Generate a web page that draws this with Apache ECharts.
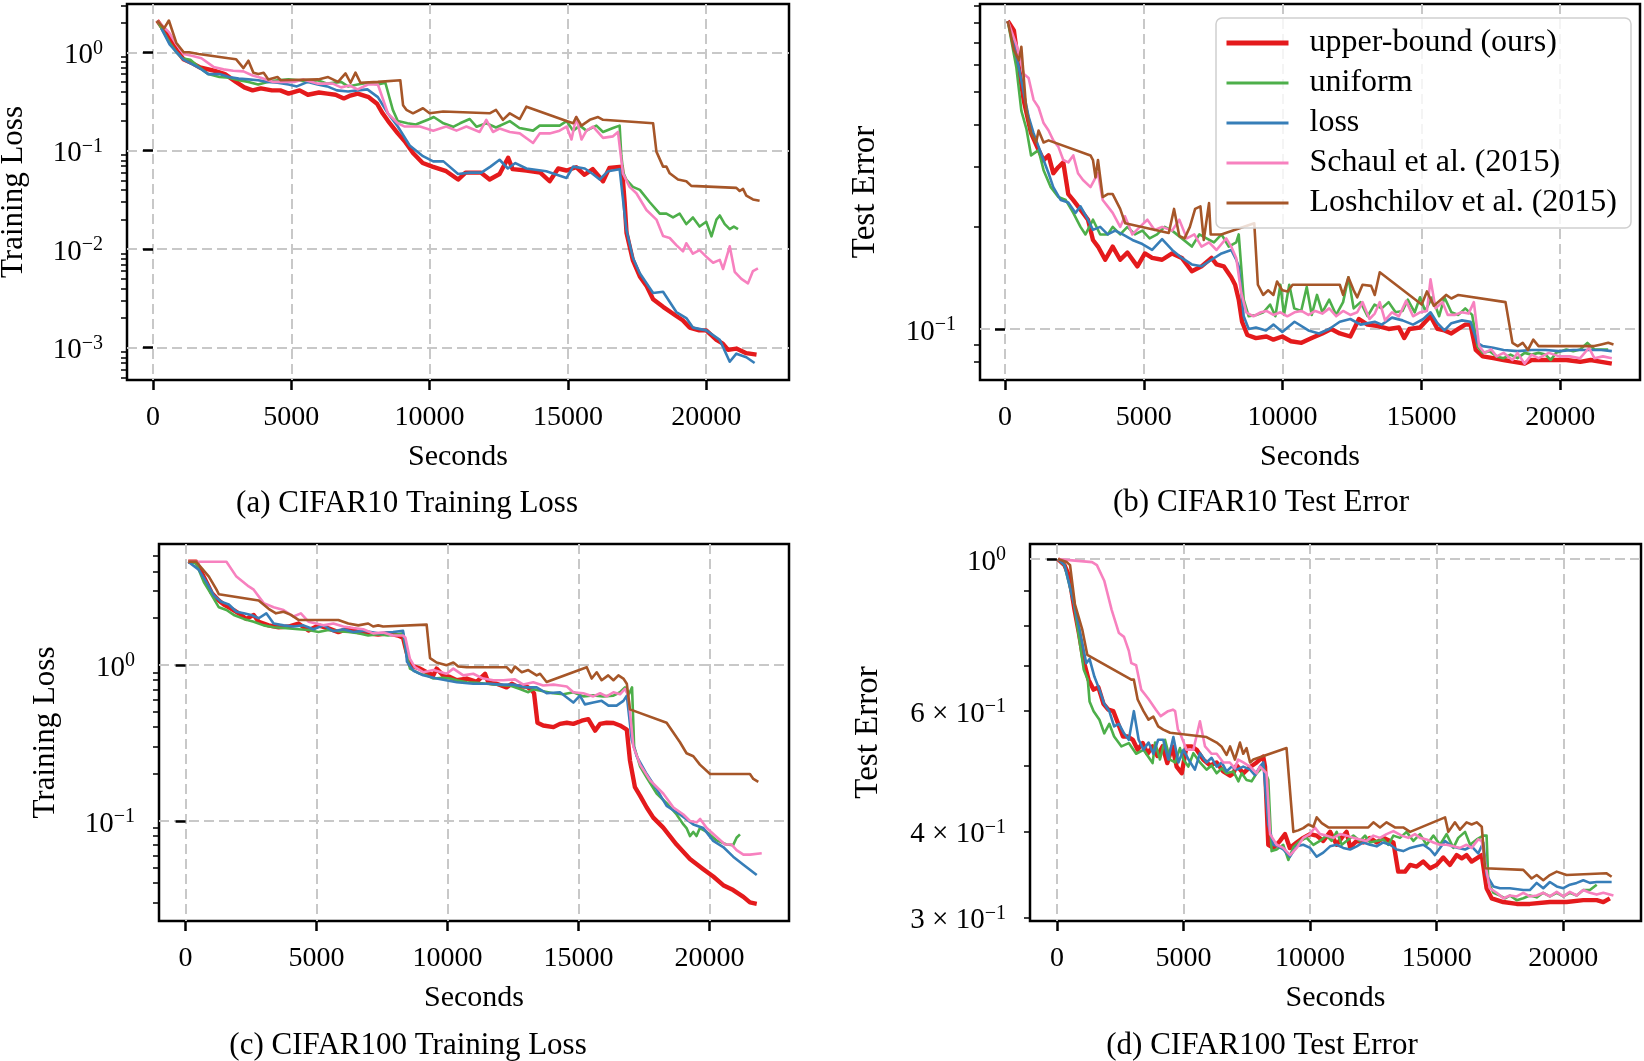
<!DOCTYPE html>
<html>
<head>
<meta charset="utf-8">
<script src="https://cdn.jsdelivr.net/npm/echarts@6.0.0/dist/echarts.min.js"></script>
<style>
  html, body { margin: 0; padding: 0; background: #fff; }
  #chart { width: 1644px; height: 1061px; }
</style>
</head>
<body>
<div id="chart"></div>
<script>
// legend names and colours (same order in every panel)
const methodNames = ['upper-bound (ours)', 'uniform', 'loss', 'Schaul et al. (2015)', 'Loshchilov et al. (2015)']
const methodColors = ['#e41a1c', '#4daf4a', '#377eb8', '#f781bf', '#a65628']

const xTicks = [0, 5000, 10000, 15000, 20000]

// (a) CIFAR10 training loss, [seconds, loss]
const aUpper = [[150,2.1],[600,1.4],[850,1.05],[1100,0.85],[1400,0.78],[1700,0.7],[2200,0.65],[2600,0.6],[3000,0.5],[3300,0.44],[3600,0.41],[3900,0.43],[4300,0.41],[4600,0.41],[4900,0.38],[5300,0.41],[5600,0.37],[6000,0.39],[6300,0.38],[6600,0.37],[6900,0.34],[7100,0.36],[7400,0.38],[7800,0.35],[8100,0.3],[8300,0.24],[8500,0.2],[8850,0.15],[9100,0.125],[9400,0.095],[9750,0.075],[10100,0.069],[10600,0.062],[11030,0.051],[11300,0.06],[11850,0.06],[12170,0.051],[12530,0.058],[12840,0.085],[13000,0.065],[13500,0.063],[14000,0.06],[14340,0.049],[14650,0.066],[14950,0.063],[15300,0.068],[15600,0.057],[15900,0.065],[16270,0.049],[16500,0.067],[16950,0.069],[17050,0.03],[17120,0.0146],[17350,0.0077],[17600,0.0053],[17850,0.0042],[18080,0.0031],[18440,0.0026],[18920,0.0021],[19150,0.0019],[19400,0.0016],[19750,0.0015],[20000,0.0015],[20370,0.0012],[20600,0.0011],[20790,0.00095],[21090,0.00098],[21450,0.00088],[21820,0.00085]]
const aUniform = [[150,2.1],[600,1.25],[850,1.0],[1050,0.87],[1350,0.84],[1650,0.71],[2000,0.6],[2400,0.56],[2750,0.55],[3100,0.52],[3450,0.5],[3800,0.47],[4150,0.5],[4500,0.52],[4900,0.53],[5250,0.52],[5600,0.5],[5950,0.52],[6300,0.48],[6800,0.5],[7050,0.45],[7400,0.47],[7770,0.49],[8130,0.47],[8400,0.49],[8670,0.26],[8850,0.2],[9200,0.19],[9500,0.185],[10000,0.21],[10150,0.22],[10500,0.19],[10850,0.175],[11100,0.19],[11450,0.21],[11700,0.175],[12050,0.19],[12400,0.172],[12900,0.2],[13250,0.17],[13740,0.16],[13980,0.18],[14700,0.18],[14950,0.2],[15190,0.16],[15430,0.18],[15670,0.16],[16030,0.18],[16270,0.155],[16630,0.17],[16870,0.18],[16930,0.09],[17000,0.06],[17110,0.051],[17350,0.043],[17600,0.04],[17960,0.03],[18320,0.023],[18560,0.023],[18800,0.021],[19040,0.023],[19280,0.018],[19520,0.021],[19760,0.017],[20000,0.019],[20190,0.0135],[20370,0.02],[20490,0.022],[20670,0.018],[20850,0.016],[21000,0.017],[21150,0.016]]
const aLoss = [[300,1.75],[600,1.2],[850,1.0],[1100,0.84],[1650,0.7],[2000,0.6],[2400,0.6],[2750,0.56],[3100,0.54],[3450,0.53],[3800,0.52],[4150,0.5],[4500,0.49],[4900,0.47],[5200,0.45],[5600,0.5],[5950,0.47],[6300,0.45],[6650,0.41],[7050,0.4],[7400,0.41],[7750,0.42],[8130,0.35],[8490,0.24],[8850,0.176],[9280,0.113],[9760,0.088],[10130,0.078],[10500,0.078],[11030,0.058],[11450,0.06],[11870,0.06],[12200,0.069],[12530,0.081],[12830,0.066],[13100,0.075],[13500,0.066],[14220,0.062],[14950,0.053],[15190,0.069],[15610,0.066],[15900,0.058],[16150,0.051],[16450,0.062],[16870,0.065],[17110,0.016],[17350,0.0082],[17600,0.0057],[18080,0.0036],[18440,0.0037],[18920,0.0023],[19280,0.002],[19520,0.0016],[20000,0.0015],[20490,0.0012],[20850,0.00072],[21090,0.00087],[21450,0.0008],[21750,0.0007]]
const aSchaul = [[150,2.1],[574,1.6],[850,1.2],[1110,0.96],[1400,0.92],[1750,0.87],[2190,0.71],[2550,0.67],[2900,0.65],[3270,0.64],[3600,0.58],[3900,0.55],[4350,0.5],[4700,0.5],[5100,0.5],[5430,0.53],[5970,0.48],[6500,0.48],[6800,0.44],[7100,0.46],[7400,0.42],[7770,0.47],[8130,0.47],[8490,0.24],[8850,0.19],[9100,0.176],[9650,0.176],[10130,0.16],[10600,0.176],[10970,0.16],[11330,0.176],[11810,0.155],[12050,0.206],[12290,0.155],[12530,0.168],[12900,0.155],[13260,0.15],[13740,0.12],[13980,0.15],[14340,0.15],[14700,0.16],[14950,0.176],[15130,0.13],[15300,0.22],[15490,0.13],[15670,0.16],[15910,0.176],[16270,0.135],[16630,0.14],[16810,0.155],[16990,0.059],[17230,0.043],[17475,0.037],[17840,0.025],[18200,0.02],[18440,0.0136],[18680,0.013],[18920,0.011],[19160,0.0095],[19280,0.0115],[19520,0.009],[19760,0.0098],[20000,0.0084],[20250,0.0073],[20490,0.0078],[20610,0.0063],[20850,0.0107],[21030,0.0059],[21270,0.005],[21510,0.0045],[21690,0.006],[21870,0.0064]]
const aLosh = [[150,2.1],[400,1.75],[574,2.1],[840,1.25],[1110,1.0],[1300,1.0],[1650,0.96],[2730,0.87],[3000,0.85],[3270,0.69],[3450,0.82],[3630,0.62],[3810,0.6],[4000,0.62],[4170,0.53],[4500,0.56],[4620,0.52],[5970,0.53],[6330,0.56],[6690,0.5],[6960,0.61],[7140,0.49],[7320,0.62],[7500,0.49],[8130,0.5],[8940,0.52],[9040,0.29],[9160,0.26],[9400,0.24],[9760,0.27],[10000,0.24],[10490,0.25],[12170,0.24],[12400,0.26],[12650,0.206],[12900,0.24],[13260,0.21],[13500,0.28],[14950,0.2],[15190,0.19],[15300,0.22],[15490,0.18],[15790,0.206],[16090,0.22],[16270,0.206],[18080,0.19],[18200,0.098],[18440,0.069],[18560,0.069],[18680,0.059],[18980,0.051],[19280,0.049],[19460,0.044],[21090,0.042],[21210,0.039],[21330,0.041],[21450,0.035],[21690,0.032],[21930,0.031]]

// (b) CIFAR10 test error
const bUpper = [[100,0.81],[320,0.76],[500,0.59],[680,0.47],[940,0.378],[1210,0.337],[1390,0.315],[1570,0.325],[1740,0.288],[1920,0.3],[2100,0.31],[2280,0.25],[2460,0.24],[2720,0.225],[2990,0.21],[3170,0.183],[3350,0.175],[3610,0.16],[3880,0.175],[4150,0.16],[4410,0.168],[4770,0.153],[5040,0.167],[5300,0.162],[5660,0.16],[6020,0.167],[6370,0.162],[6730,0.148],[7080,0.153],[7440,0.162],[7620,0.155],[7880,0.153],[8150,0.142],[8290,0.135],[8420,0.122],[8540,0.105],[8730,0.096],[9040,0.094],[9420,0.095],[9670,0.093],[9990,0.095],[10300,0.092],[10680,0.091],[11050,0.094],[11430,0.097],[11750,0.1],[12060,0.097],[12440,0.095],[12750,0.107],[13060,0.103],[13440,0.102],[13820,0.1],[14190,0.101],[14380,0.094],[14570,0.1],[14950,0.101],[15330,0.109],[15580,0.1],[15830,0.099],[16080,0.097],[16330,0.1],[16580,0.103],[16770,0.103],[16960,0.0867],[17210,0.083],[17590,0.082],[17960,0.081],[18340,0.08],[18720,0.079],[18970,0.081],[19340,0.081],[19720,0.081],[20220,0.081],[20720,0.08],[21100,0.081],[21480,0.08],[21860,0.079]]
const bUniform = [[100,0.81],[410,0.59],[590,0.44],[770,0.39],[940,0.325],[1210,0.337],[1390,0.294],[1650,0.262],[1920,0.245],[2190,0.24],[2460,0.22],[2720,0.2],[2900,0.19],[3170,0.21],[3430,0.19],[3700,0.19],[3880,0.2],[4150,0.19],[4410,0.2],[4680,0.19],[4950,0.195],[5210,0.185],[5480,0.19],[5750,0.2],[6020,0.195],[6370,0.185],[6730,0.175],[7000,0.19],[7260,0.185],[7530,0.18],[7800,0.19],[8060,0.175],[8330,0.18],[8420,0.19],[8600,0.122],[8780,0.109],[9050,0.11],[9310,0.112],[9550,0.118],[9740,0.109],[9920,0.135],[10050,0.11],[10240,0.135],[10420,0.115],[10670,0.113],[10870,0.133],[11050,0.11],[11240,0.126],[11430,0.112],[11680,0.122],[11930,0.11],[12180,0.12],[12370,0.142],[12560,0.115],[12810,0.12],[13060,0.109],[13310,0.118],[13570,0.115],[13820,0.12],[14070,0.112],[14320,0.113],[14510,0.122],[14760,0.112],[14950,0.124],[15140,0.113],[15390,0.124],[15640,0.109],[15830,0.124],[16080,0.112],[16330,0.11],[16580,0.115],[16830,0.11],[17020,0.089],[17210,0.085],[17460,0.086],[17710,0.083],[17960,0.082],[18210,0.084],[18460,0.082],[18720,0.085],[18970,0.084],[19220,0.085],[19470,0.084],[19660,0.081],[19850,0.085],[20220,0.087],[20470,0.086],[20720,0.087],[20980,0.091],[21230,0.087],[21480,0.087],[21730,0.087]]
const bLoss = [[100,0.81],[320,0.69],[500,0.59],[680,0.495],[850,0.423],[1030,0.378],[1210,0.345],[1390,0.315],[1570,0.288],[1740,0.262],[2010,0.24],[2280,0.236],[2540,0.22],[2720,0.23],[2990,0.21],[3170,0.196],[3430,0.2],[3700,0.19],[3970,0.195],[4240,0.19],[4590,0.183],[4950,0.178],[5300,0.171],[5660,0.184],[6020,0.171],[6370,0.162],[6730,0.155],[7080,0.153],[7440,0.16],[7800,0.167],[8150,0.171],[8330,0.16],[8420,0.153],[8600,0.109],[8780,0.1],[9040,0.101],[9400,0.099],[9670,0.103],[9990,0.098],[10430,0.105],[10930,0.099],[11310,0.097],[11680,0.1],[12060,0.105],[12440,0.107],[12810,0.103],[13320,0.105],[13570,0.103],[13940,0.108],[14320,0.106],[14700,0.103],[15070,0.107],[15330,0.112],[15580,0.104],[15830,0.099],[16080,0.104],[16460,0.106],[16770,0.105],[17020,0.091],[17210,0.089],[17590,0.088],[17960,0.0867],[18460,0.086],[18970,0.0867],[19470,0.0867],[19970,0.086],[20470,0.0867],[20980,0.0867],[21480,0.0867],[21860,0.086]]
const bSchaul = [[100,0.81],[410,0.69],[680,0.565],[850,0.55],[1030,0.474],[1210,0.45],[1390,0.405],[1570,0.385],[1740,0.36],[1920,0.345],[2100,0.315],[2280,0.31],[2460,0.325],[2630,0.288],[2810,0.275],[3080,0.262],[3350,0.288],[3520,0.24],[3700,0.23],[3880,0.22],[4150,0.2],[4320,0.215],[4590,0.19],[4860,0.2],[5130,0.21],[5390,0.196],[5660,0.2],[6020,0.195],[6280,0.21],[6550,0.185],[6820,0.19],[7080,0.175],[7350,0.18],[7620,0.171],[7970,0.185],[8150,0.175],[8330,0.162],[8510,0.128],[8690,0.112],[8950,0.109],[9220,0.112],[9420,0.113],[9670,0.11],[9920,0.112],[10170,0.109],[10430,0.112],[10680,0.113],[10930,0.11],[11180,0.113],[11430,0.111],[11680,0.115],[11930,0.109],[12180,0.113],[12440,0.11],[12690,0.112],[12880,0.12],[13130,0.107],[13320,0.111],[13500,0.12],[13690,0.106],[13940,0.112],[14190,0.109],[14450,0.121],[14700,0.109],[14950,0.112],[15200,0.113],[15330,0.14],[15510,0.115],[15760,0.12],[15950,0.11],[16200,0.11],[16450,0.112],[16700,0.111],[16890,0.12],[17080,0.089],[17270,0.085],[17520,0.087],[17710,0.083],[17960,0.085],[18280,0.081],[18460,0.085],[18720,0.079],[18970,0.084],[19220,0.082],[19590,0.085],[19970,0.083],[20350,0.083],[20720,0.082],[21040,0.088],[21230,0.082],[21540,0.083],[21860,0.082]]
const bLosh = [[100,0.81],[320,0.665],[500,0.62],[590,0.68],[770,0.44],[940,0.378],[1120,0.355],[1210,0.385],[1390,0.355],[1570,0.36],[3080,0.325],[3170,0.315],[3260,0.28],[3350,0.315],[3520,0.245],[3700,0.25],[3880,0.25],[4150,0.226],[4330,0.205],[5900,0.192],[6090,0.226],[6280,0.188],[6470,0.185],[6660,0.2],[6850,0.226],[7040,0.23],[7160,0.183],[7350,0.235],[7410,0.19],[7600,0.19],[7790,0.19],[8980,0.205],[9110,0.135],[9300,0.126],[9480,0.13],[9670,0.126],[9800,0.138],[9990,0.13],[10180,0.129],[10360,0.135],[12060,0.135],[12180,0.126],[12370,0.142],[12560,0.13],[12690,0.124],[12880,0.135],[13190,0.134],[13320,0.126],[13500,0.147],[15010,0.118],[15200,0.129],[15450,0.117],[15700,0.122],[15890,0.126],[16080,0.123],[16330,0.126],[18030,0.12],[18280,0.091],[18470,0.089],[18650,0.091],[18840,0.0867],[19030,0.093],[19220,0.089],[21230,0.089],[21480,0.09],[21730,0.091],[21920,0.09]]

// (c) CIFAR100 training loss
const cUpper = [[100,4.61],[400,4.61],[800,3.4],[1000,2.9],[1270,2.6],[1460,2.45],[1650,2.35],[1840,2.25],[2030,2.15],[2320,1.98],[2600,2.1],[2790,1.9],[3170,1.8],[3550,1.75],[3930,1.77],[4310,1.85],[4690,1.67],[5070,1.8],[5450,1.72],[5830,1.63],[6210,1.72],[6590,1.63],[6970,1.6],[7350,1.57],[7730,1.6],[8110,1.55],[8300,1.5],[8390,1.3],[8565,1.0],[8950,0.95],[9200,0.9],[9455,0.86],[9580,0.95],[9830,0.86],[10090,0.84],[10350,0.8],[10730,0.82],[11110,0.78],[11430,0.88],[11560,0.77],[11870,0.76],[12250,0.72],[12450,0.76],[12640,0.73],[13020,0.73],[13210,0.69],[13300,0.66],[13430,0.427],[13650,0.41],[14040,0.4],[14290,0.42],[14550,0.427],[14800,0.42],[15120,0.44],[15370,0.45],[15630,0.38],[15820,0.42],[16070,0.427],[16330,0.425],[16580,0.41],[16840,0.386],[16960,0.245],[17150,0.165],[17350,0.145],[17600,0.122],[17850,0.105],[18230,0.0906],[18740,0.0706],[19250,0.057],[19760,0.049],[20140,0.044],[20520,0.0387],[20900,0.036],[21290,0.0326],[21540,0.03],[21800,0.0294]]
const cUniform = [[100,4.61],[400,4.5],[700,3.4],[900,3.0],[1270,2.35],[1560,2.26],[1840,2.1],[2220,1.98],[2600,1.9],[2980,1.8],[3360,1.75],[3740,1.73],[4310,1.7],[4690,1.68],[5070,1.63],[5450,1.68],[5830,1.65],[6210,1.63],[6590,1.6],[6970,1.55],[7350,1.58],[7730,1.55],[8110,1.58],[8300,1.6],[8420,1.2],[8565,0.95],[8950,0.88],[9200,0.86],[9460,0.82],[9830,0.83],[10090,0.82],[10350,0.8],[10730,0.777],[11110,0.77],[11490,0.76],[11870,0.75],[12250,0.74],[12380,0.74],[12760,0.703],[13080,0.67],[13270,0.7],[13650,0.68],[14030,0.66],[14420,0.65],[14800,0.67],[15180,0.63],[15560,0.64],[15940,0.63],[16330,0.637],[16580,0.67],[16770,0.72],[16900,0.64],[17040,0.72],[17120,0.3],[17350,0.223],[17600,0.19],[17980,0.15],[18360,0.13],[18740,0.11],[19000,0.095],[19120,0.09],[19250,0.08],[19380,0.085],[19500,0.08],[19630,0.09],[19890,0.085],[20270,0.075],[20650,0.0706],[20900,0.07],[21030,0.078],[21160,0.082]]
const cLoss = [[100,4.61],[500,4.1],[800,3.4],[1080,2.8],[1360,2.55],[1650,2.45],[1940,2.2],[2220,2.15],[2500,2.1],[2790,2.0],[3080,2.15],[3360,1.85],[3740,1.8],[4120,1.77],[4500,1.8],[4880,1.7],[5260,1.8],[5640,1.65],[6020,1.7],[6400,1.63],[6780,1.66],[7350,1.6],[7920,1.63],[8300,1.66],[8400,1.3],[8450,1.05],[8700,0.92],[9070,0.86],[9580,0.82],[10350,0.777],[10980,0.76],[11620,0.76],[12000,0.75],[12510,0.75],[13020,0.72],[13400,0.72],[13780,0.66],[14290,0.67],[14800,0.575],[15050,0.637],[15240,0.56],[15560,0.575],[15880,0.59],[16140,0.55],[16450,0.55],[16710,0.59],[16840,0.637],[17030,0.332],[17220,0.26],[17600,0.2],[17980,0.16],[18360,0.125],[18870,0.11],[19380,0.095],[19760,0.09],[20140,0.0745],[20520,0.068],[20900,0.059],[21290,0.0524],[21800,0.045]]
const cSchaul = [[100,4.61],[1560,4.61],[1940,3.7],[2410,3.2],[2600,3.05],[2980,2.5],[3360,2.35],[3740,2.26],[4120,2.05],[4400,2.15],[4690,1.9],[5260,1.8],[5640,1.85],[6020,1.77],[6400,1.73],[6780,1.7],[7160,1.6],[7540,1.62],[7920,1.55],[8300,1.55],[8390,1.5],[8560,1.1],[8750,0.97],[9080,0.9],[9460,0.93],[9960,0.88],[10220,0.95],[10600,0.86],[10980,0.88],[11360,0.82],[11750,0.8],[12130,0.8],[12570,0.81],[12890,0.75],[13270,0.777],[13650,0.74],[14040,0.75],[14290,0.74],[14550,0.73],[14800,0.67],[15180,0.66],[15560,0.63],[15820,0.66],[16070,0.63],[16330,0.67],[16580,0.65],[16770,0.703],[16900,0.64],[17090,0.3],[17350,0.23],[17730,0.182],[18230,0.15],[18620,0.122],[19000,0.11],[19250,0.1],[19510,0.098],[19640,0.103],[19890,0.09],[20270,0.079],[20590,0.0706],[20840,0.0706],[21030,0.065],[21290,0.0608],[21540,0.0608],[21990,0.062]]
const cLosh = [[100,4.61],[400,4.61],[890,3.7],[1180,3.05],[1270,2.85],[2790,2.6],[3170,2.3],[3450,2.15],[3740,2.2],[4020,2.1],[4310,1.95],[5830,1.95],[6210,1.85],[6590,1.8],[6970,1.85],[7160,1.77],[7350,1.8],[7540,1.77],[9200,1.82],[9330,1.11],[9580,1.04],[9960,1.0],[10220,1.04],[10410,0.98],[10730,0.97],[12250,0.97],[12440,0.9],[12570,0.98],[12830,0.9],[13080,0.93],[13400,0.86],[13530,0.88],[13780,0.78],[15310,0.97],[15500,0.82],[15690,0.9],[15880,0.8],[16130,0.86],[16330,0.8],[16520,0.86],[16710,0.82],[16840,0.76],[16960,0.52],[18360,0.427],[18870,0.32],[19120,0.272],[19380,0.26],[19630,0.23],[20020,0.2],[21540,0.2],[21670,0.186],[21860,0.178]]

// (d) CIFAR100 test error
const dUpper = [[40,1.0],[300,0.98],[480,0.945],[680,0.85],[870,0.78],[1060,0.71],[1250,0.667],[1450,0.645],[1640,0.65],[1840,0.615],[2030,0.603],[2230,0.6],[2420,0.575],[2610,0.551],[2800,0.551],[3000,0.545],[3190,0.527],[3390,0.539],[3580,0.52],[3780,0.533],[3970,0.516],[4170,0.533],[4360,0.504],[4560,0.533],[4730,0.498],[4930,0.487],[5120,0.533],[5320,0.533],[5520,0.527],[5780,0.51],[6050,0.5],[6310,0.505],[6570,0.49],[6840,0.483],[6970,0.487],[7100,0.5],[7360,0.487],[7620,0.497],[7890,0.505],[8150,0.515],[8220,0.498],[8350,0.383],[8550,0.379],[8810,0.388],[9010,0.397],[9200,0.379],[9470,0.386],[9730,0.392],[10000,0.397],[10260,0.395],[10520,0.388],[10790,0.4],[11050,0.383],[11310,0.395],[11440,0.4],[11580,0.38],[11840,0.388],[12100,0.386],[12370,0.392],[12630,0.386],[12890,0.392],[13160,0.388],[13290,0.386],[13480,0.35],[13750,0.35],[13950,0.358],[14210,0.356],[14470,0.362],[14740,0.354],[15000,0.358],[15260,0.367],[15520,0.358],[15790,0.37],[15990,0.366],[16180,0.37],[16380,0.362],[16580,0.366],[16780,0.37],[16970,0.331],[17170,0.32],[17630,0.316],[18160,0.314],[18680,0.314],[19470,0.316],[20130,0.316],[20790,0.318],[21320,0.318],[21580,0.316],[21840,0.32]]
const dUniform = [[40,1.0],[300,0.98],[680,0.86],[870,0.77],[1060,0.69],[1220,0.667],[1290,0.62],[1450,0.6],[1680,0.583],[1870,0.557],[2070,0.575],[2260,0.551],[2550,0.533],[2840,0.539],[3130,0.52],[3420,0.527],[3780,0.504],[3880,0.54],[4070,0.51],[4270,0.545],[4470,0.51],[4670,0.505],[4860,0.53],[5000,0.51],[5190,0.498],[5390,0.521],[5650,0.505],[5910,0.493],[6110,0.5],[6310,0.487],[6510,0.495],[6700,0.487],[6970,0.49],[7170,0.474],[7300,0.487],[7490,0.476],[7690,0.474],[7890,0.487],[8150,0.498],[8350,0.476],[8480,0.375],[8680,0.377],[8940,0.383],[9140,0.364],[9340,0.38],[9600,0.388],[9860,0.392],[10130,0.383],[10390,0.388],[10650,0.395],[10850,0.388],[11050,0.4],[11250,0.383],[11440,0.388],[11710,0.395],[11970,0.388],[12170,0.395],[12370,0.386],[12630,0.388],[12890,0.39],[13090,0.383],[13290,0.395],[13550,0.392],[13810,0.4],[14080,0.388],[14340,0.397],[14600,0.383],[14870,0.395],[15130,0.383],[15390,0.397],[15660,0.379],[15850,0.392],[16120,0.4],[16320,0.383],[16580,0.39],[16840,0.395],[16970,0.395],[17040,0.338],[17240,0.326],[17500,0.323],[17700,0.32],[17890,0.323],[18160,0.318],[18420,0.32],[18680,0.323],[18950,0.321],[19210,0.326],[19470,0.322],[19740,0.326],[20000,0.322],[20260,0.326],[20530,0.323],[20790,0.329],[21050,0.329],[21320,0.335]]
const dLoss = [[40,1.0],[300,0.98],[680,0.86],[970,0.765],[1160,0.705],[1290,0.715],[1480,0.674],[1680,0.645],[1870,0.615],[2070,0.6],[2260,0.57],[2450,0.575],[2650,0.557],[2840,0.545],[3040,0.6],[3230,0.545],[3420,0.527],[3620,0.54],[3810,0.52],[4000,0.545],[4200,0.545],[4400,0.51],[4600,0.55],[4800,0.505],[5000,0.527],[5200,0.51],[5450,0.493],[5650,0.521],[5910,0.505],[6110,0.513],[6310,0.498],[6510,0.505],[6700,0.49],[6900,0.498],[7100,0.493],[7360,0.498],[7630,0.493],[7820,0.484],[8020,0.498],[8150,0.505],[8350,0.41],[8550,0.383],[8740,0.381],[8940,0.377],[9200,0.368],[9470,0.381],[9730,0.383],[10000,0.379],[10260,0.368],[10520,0.373],[10790,0.381],[11050,0.383],[11310,0.379],[11580,0.377],[11840,0.381],[12100,0.386],[12370,0.383],[12630,0.381],[12890,0.386],[13160,0.383],[13420,0.377],[13680,0.375],[13950,0.379],[14210,0.381],[14470,0.383],[14740,0.377],[14930,0.37],[15130,0.379],[15330,0.388],[15590,0.381],[15850,0.379],[16120,0.377],[16380,0.381],[16640,0.372],[16840,0.386],[16970,0.346],[17240,0.333],[17500,0.331],[17890,0.331],[18420,0.329],[18680,0.329],[18950,0.337],[19210,0.331],[19470,0.338],[19740,0.333],[20000,0.331],[20260,0.335],[20530,0.337],[20790,0.34],[21050,0.337],[21320,0.338],[21580,0.338],[21910,0.338]]
const dSchaul = [[40,1.0],[1390,0.99],[1580,0.98],[1870,0.93],[2160,0.844],[2450,0.78],[2650,0.77],[2840,0.735],[2940,0.705],[3130,0.7],[3330,0.645],[3620,0.625],[3910,0.603],[4100,0.59],[4390,0.6],[4580,0.603],[4670,0.6],[4780,0.564],[4860,0.558],[5120,0.527],[5390,0.527],[5650,0.58],[5850,0.533],[6110,0.52],[6310,0.52],[6570,0.505],[6830,0.505],[7030,0.495],[7160,0.51],[7360,0.505],[7630,0.498],[7890,0.487],[8020,0.498],[8280,0.487],[8420,0.397],[8680,0.383],[8940,0.379],[9210,0.37],[9470,0.379],[9730,0.392],[9990,0.397],[10190,0.406],[10390,0.397],[10650,0.395],[10920,0.392],[11180,0.397],[11440,0.395],[11710,0.392],[11970,0.39],[12230,0.388],[12500,0.395],[12760,0.392],[13020,0.397],[13290,0.401],[13620,0.395],[13880,0.392],[14140,0.397],[14340,0.392],[14600,0.39],[14870,0.386],[15130,0.383],[15390,0.383],[15660,0.381],[15920,0.379],[16180,0.383],[16380,0.379],[16640,0.39],[16780,0.388],[16910,0.36],[17100,0.331],[17370,0.326],[17630,0.32],[17890,0.323],[18160,0.322],[18420,0.326],[18680,0.322],[18950,0.323],[19210,0.326],[19470,0.322],[19740,0.327],[20000,0.322],[20260,0.327],[20530,0.323],[20790,0.329],[21050,0.326],[21320,0.324],[21580,0.326],[21980,0.323]]
const dLosh = [[40,1.0],[390,0.99],[520,0.98],[710,0.86],[1000,0.79],[1200,0.725],[2940,0.667],[3040,0.667],[3190,0.624],[3420,0.6],[3620,0.583],[3810,0.589],[4000,0.57],[4200,0.564],[4470,0.558],[5910,0.55],[6310,0.54],[6500,0.533],[6700,0.518],[6840,0.533],[7030,0.51],[7230,0.54],[7360,0.52],[7490,0.53],[7630,0.505],[7760,0.51],[9070,0.53],[9340,0.4],[9530,0.402],[9730,0.405],[9930,0.41],[10130,0.407],[10260,0.42],[10460,0.412],[10720,0.406],[12300,0.406],[12500,0.413],[12760,0.406],[13020,0.413],[13350,0.406],[13680,0.406],[13950,0.4],[15330,0.42],[15460,0.4],[15720,0.413],[15920,0.403],[16180,0.413],[16380,0.41],[16580,0.413],[16780,0.407],[16910,0.354],[18420,0.352],[18750,0.342],[18950,0.346],[19210,0.34],[19470,0.346],[19740,0.35],[20130,0.346],[21710,0.348],[21910,0.344]]

const FONT = 'Liberation Serif'

// panel layout
const panels = [
  { grid: { left: 127, top: 4, width: 662, height: 376 }, xMin: -940, xMax: 22993,
    yMin: 4.7e-4, yMax: 3.09, major: [1e-3, 1e-2, 1e-1, 1], labels: [1e-3, 1e-2, 1e-1, 1],
    yName: 'Training Loss', nameSize: 31, nameGap: 98, data: [aUpper, aUniform, aLoss, aSchaul, aLosh],
    caption: '(a) CIFAR10 Training Loss', capX: 407, capY: 504 },
  { grid: { left: 980, top: 4, width: 660, height: 376 }, xMin: -900, xMax: 22875,
    yMin: 0.0707, yMax: 0.909, major: [0.1], labels: [0.1],
    yName: 'Test Error', nameSize: 33, nameGap: 100, data: [bUpper, bUniform, bLoss, bSchaul, bLosh],
    caption: '(b) CIFAR10 Test Error', capX: 1261, capY: 503 },
  { grid: { left: 159, top: 544, width: 630, height: 377 }, xMin: -1015, xMax: 23031,
    yMin: 0.0228, yMax: 5.99, major: [0.1, 1], labels: [0.1, 1],
    yName: 'Training Loss', nameSize: 31, nameGap: 98, data: [cUpper, cUniform, cLoss, cSchaul, cLosh],
    caption: '(c) CIFAR100 Training Loss', capX: 408, capY: 1046 },
  { grid: { left: 1030, top: 544, width: 611, height: 377 }, xMin: -1062, xMax: 23069,
    yMin: 0.2965, yMax: 1.052, major: [1], labels: [1, 0.6, 0.4, 0.3],
    yName: 'Test Error', nameSize: 33, nameGap: 147, data: [dUpper, dUniform, dLoss, dSchaul, dLosh],
    caption: '(d) CIFAR100 Test Error', capX: 1262, capY: 1046 }
]

const lineWidths = [4.4, 2.6, 2.6, 2.6, 2.6]

// minor log ticks: 2..9 x 10^e inside the axis range
function minorTicks(lo, hi) {
  const out = []
  for (let e = -5; e <= 1; e++) {
    for (let k = 2; k <= 9; k++) {
      const v = k * Math.pow(10, e)
      if (v >= lo && v <= hi) out.push(v)
    }
  }
  return out
}

// 10^e or m x 10^e, with the exponent as a superscript
function logLabel(v) {
  const e = Math.floor(Math.log10(v) + 1e-6)
  const m = Math.round(v / Math.pow(10, e))
  const exp = (e < 0 ? '\u2212' : '') + Math.abs(e)
  return (m === 1 ? '{b|10}' : '{b|' + m + ' \u00d7 10}') + '{s|' + exp + '}'
}

const gridLine = { show: true, lineStyle: { color: '#c8c8c8', width: 2, type: [10, 5] } }

const grids = []
const xAxes = []
const yAxes = []
const series = []
const graphics = []

panels.forEach((p, i) => {
  grids.push(Object.assign({
    show: true, borderColor: '#000', borderWidth: 2.5, backgroundColor: 'transparent',
    containLabel: false, outerBoundsMode: 'none'
  }, p.grid))

  xAxes.push({
    type: 'value', gridIndex: i, min: p.xMin, max: p.xMax, position: 'bottom',
    name: 'Seconds', nameLocation: 'middle', nameGap: 62, nameMoveOverlap: false,
    nameTextStyle: { fontFamily: FONT, fontSize: 30, color: '#000', lineHeight: 30 },
    axisLine: { show: false },
    axisTick: { show: true, customValues: xTicks, length: 10, lineStyle: { color: '#000', width: 2.5 } },
    axisLabel: { customValues: xTicks, formatter: v => String(v), fontFamily: FONT, fontSize: 28,
      color: '#000', margin: 24, lineHeight: 28 },
    splitLine: gridLine
  })

  // major ticks, labels and grid lines
  yAxes.push({
    type: 'log', logBase: 10, gridIndex: i, min: p.yMin, max: p.yMax, position: 'left',
    name: p.yName, nameLocation: 'middle', nameGap: p.nameGap, nameMoveOverlap: false,
    nameTextStyle: { fontFamily: FONT, fontSize: p.nameSize, color: '#000', lineHeight: 30 },
    axisLine: { show: false },
    axisTick: { show: true, customValues: p.major, length: 10, lineStyle: { color: '#000', width: 2.5 } },
    axisLabel: {
      customValues: p.labels, formatter: logLabel, margin: 24, padding: [6, 0, 0, 0],
      rich: {
        b: { fontFamily: FONT, fontSize: 29, color: '#000', lineHeight: 34 },
        s: { fontFamily: FONT, fontSize: 20, color: '#000', lineHeight: 20, verticalAlign: 'top' }
      }
    },
    splitLine: gridLine
  })
  // minor ticks
  yAxes.push({
    type: 'log', logBase: 10, gridIndex: i, min: p.yMin, max: p.yMax, position: 'left',
    axisLine: { show: false },
    axisTick: { show: true, customValues: minorTicks(p.yMin, p.yMax), length: 6,
      lineStyle: { color: '#000', width: 1.5 } },
    axisLabel: { show: false },
    splitLine: { show: false }
  })

  p.data.forEach((d, k) => {
    series.push({
      name: methodNames[k], type: 'line', xAxisIndex: i, yAxisIndex: i * 2,
      data: d, showSymbol: false, symbol: 'none', animation: false,
      color: methodColors[k],
      lineStyle: { color: methodColors[k], width: lineWidths[k], join: 'round' }
    })
  })

  graphics.push({
    type: 'text', x: p.capX, y: p.capY,
    style: { text: p.caption, fontFamily: FONT, fontSize: 31, fill: '#000',
      align: 'center', verticalAlign: 'middle' }
  })
})

const chart = echarts.init(document.getElementById('chart'), null, { renderer: 'canvas' })
chart.setOption({
  animation: false,
  backgroundColor: '#fff',
  grid: grids,
  xAxis: xAxes,
  yAxis: yAxes,
  series: series,
  graphic: graphics,
  legend: {
    data: methodNames.map((n, k) => ({
      name: n,
      lineStyle: { color: methodColors[k], width: lineWidths[k] + 0.6 }
    })),
    orient: 'vertical', left: 1216, top: 18,
    itemWidth: 62, itemHeight: 30, itemGap: 8,
    padding: [9, 14, 9, 8],
    itemStyle: { opacity: 0, borderWidth: 0 },
    backgroundColor: 'rgba(255,255,255,0.8)', borderColor: '#cfcfcf', borderWidth: 1.5, borderRadius: 6,
    textStyle: { fontFamily: FONT, fontSize: 32, color: '#000', lineHeight: 30, padding: [0, 0, 0, 16] },
    selectedMode: false
  }
})
</script>
</body>
</html>
